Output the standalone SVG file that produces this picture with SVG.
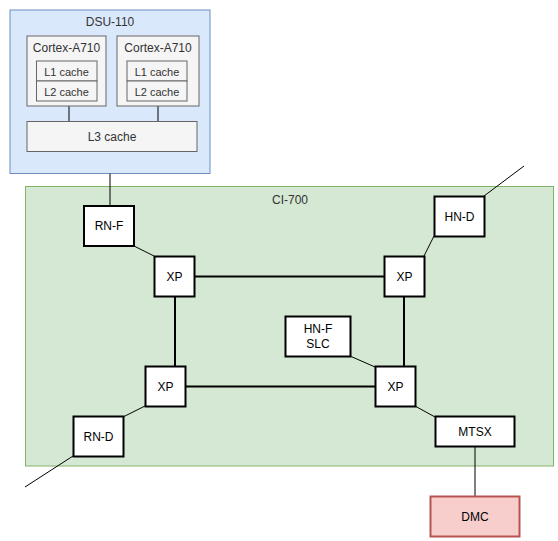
<svg xmlns="http://www.w3.org/2000/svg" width="558" height="541" viewBox="0 0 558 541">
<style>
text{font-family:"Liberation Sans",Arial,sans-serif;font-size:12px;text-anchor:middle;dominant-baseline:central}
.gray{fill:#f5f5f5;stroke:#666666;stroke-width:1}
.gt{fill:#333333}
.node{fill:#ffffff;stroke:#000000;stroke-width:2}
.thin{stroke:#000000;stroke-width:1;fill:none}
.thick{stroke:#000000;stroke-width:2;fill:none}
.small{font-size:11px}
</style>
<g id="dsu">
<rect x="10" y="10" width="200" height="163.5" fill="#dae8fc" stroke="#6c8ebf"/>
<text x="110" y="22" class="gt">DSU-110</text>
</g>
<g id="ci700">
<rect x="25.5" y="186.5" width="528" height="279.5" fill="#d5e8d4" stroke="#82b366"/>
<text x="290" y="200" class="gt">CI-700</text>
</g>
<g id="connectors">
<line x1="69" y1="106" x2="69" y2="121" stroke="#333" class="thin"/>
<line x1="158" y1="106" x2="158" y2="121" stroke="#333" class="thin"/>
<line x1="110" y1="173.5" x2="110" y2="206" class="thin"/>
<line x1="134" y1="246" x2="154" y2="256" class="thin"/>
<line x1="434" y1="236" x2="424" y2="256" class="thin"/>
<line x1="484" y1="196" x2="524" y2="166" class="thin"/>
<line x1="194" y1="276.5" x2="384" y2="276.5" class="thick"/>
<line x1="175" y1="296" x2="175" y2="366" class="thick"/>
<line x1="404" y1="296" x2="404" y2="366" class="thick"/>
<line x1="186" y1="386.5" x2="375" y2="386.5" class="thick"/>
<line x1="350" y1="356" x2="375" y2="367" class="thin"/>
<line x1="145" y1="406" x2="123" y2="417" class="thin"/>
<line x1="73" y1="456" x2="25" y2="487" class="thin"/>
<line x1="415" y1="406" x2="435" y2="417" class="thin"/>
<line x1="475" y1="446" x2="475" y2="496" stroke="#333" class="thin"/>
</g>
<g id="cortex1">
<rect x="27" y="36" width="79" height="70" class="gray"/>
<text x="66.5" y="48" class="gt">Cortex-A710</text>
</g>
<g id="l1a">
<rect x="36.5" y="61" width="60.5" height="20" class="gray"/>
<text x="66.5" y="71.5" class="gt small">L1 cache</text>
</g>
<g id="l2a">
<rect x="36.5" y="81" width="60.5" height="20" class="gray"/>
<text x="66.5" y="91.5" class="gt small">L2 cache</text>
</g>
<g id="cortex2">
<rect x="117" y="36" width="82" height="70" class="gray"/>
<text x="158" y="48" class="gt">Cortex-A710</text>
</g>
<g id="l1b">
<rect x="127" y="61" width="60" height="20" class="gray"/>
<text x="157" y="71.5" class="gt small">L1 cache</text>
</g>
<g id="l2b">
<rect x="127" y="81" width="60" height="20" class="gray"/>
<text x="157" y="91.5" class="gt small">L2 cache</text>
</g>
<g id="l3">
<rect x="27" y="121.5" width="170" height="30" class="gray"/>
<text x="112" y="136.5" class="gt">L3 cache</text>
</g>
<g id="rnf">
<rect x="84" y="206" width="50" height="40" class="node"/>
<text x="109" y="226">RN-F</text>
</g>
<g id="xp1">
<rect x="154.5" y="256.5" width="40" height="40" class="node"/>
<text x="174.5" y="276.5">XP</text>
</g>
<g id="xp2">
<rect x="384.5" y="256.5" width="40" height="40" class="node"/>
<text x="404.5" y="276.5">XP</text>
</g>
<g id="hnd">
<rect x="434.5" y="196.5" width="50" height="40" class="node"/>
<text x="459.5" y="216.5">HN-D</text>
</g>
<g id="hnf">
<rect x="285.5" y="316.5" width="65" height="40" class="node"/>
<text x="318" y="329">HN-F</text>
<text x="318" y="344">SLC</text>
</g>
<g id="xp3">
<rect x="145.5" y="366.5" width="40" height="40" class="node"/>
<text x="165.5" y="386.5">XP</text>
</g>
<g id="xp4">
<rect x="375.5" y="366.5" width="40" height="40" class="node"/>
<text x="395.5" y="386.5">XP</text>
</g>
<g id="rnd">
<rect x="73.5" y="416.5" width="50" height="40" class="node"/>
<text x="98.5" y="436.5">RN-D</text>
</g>
<g id="mtsx">
<rect x="435.5" y="416.5" width="79" height="30" class="node"/>
<text x="475" y="431.5">MTSX</text>
</g>
<g id="dmc">
<rect x="430.5" y="496.5" width="89" height="40" fill="#f8cecc" stroke="#b85450" stroke-width="2"/>
<text x="475" y="516.5">DMC</text>
</g>
</svg>
